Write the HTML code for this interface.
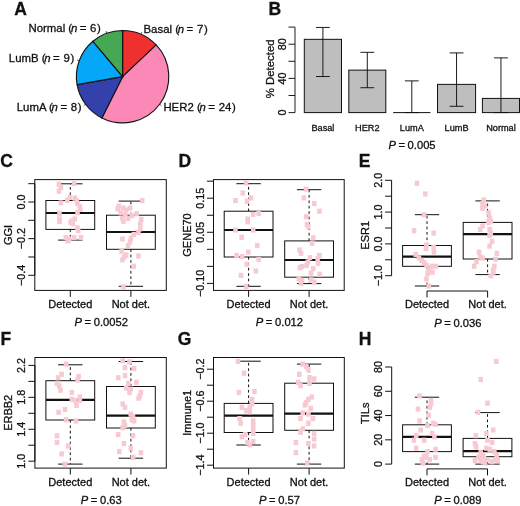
<!DOCTYPE html>
<html><head><meta charset="utf-8"><style>
html,body{margin:0;padding:0;background:#fff;}
svg{display:block;font-family:"Liberation Sans", sans-serif;filter:blur(0.3px);}
svg text{fill:#111;stroke:#111;stroke-width:0.3px;}
</style></head><body>
<svg width="520" height="506" viewBox="0 0 520 506">
<rect width="520" height="506" fill="#fff"/>
<path d="M122.6,76.65 L122.60,30.45 A46.2,46.2 0 0 1 156.20,44.95 Z" fill="#f0302f" stroke="#141414" stroke-width="1.15"/>
<line x1="140.90" y1="34.23" x2="141.81" y2="32.11" stroke="#1a1a1a" stroke-width="0.7"/>
<path d="M122.6,76.65 L156.20,44.95 A46.2,46.2 0 0 1 101.87,117.94 Z" fill="#fb88b7" stroke="#141414" stroke-width="1.15"/>
<line x1="159.66" y1="104.24" x2="161.51" y2="105.62" stroke="#1a1a1a" stroke-width="0.7"/>
<path d="M122.6,76.65 L101.87,117.94 A46.2,46.2 0 0 1 77.10,84.67 Z" fill="#3441ab" stroke="#141414" stroke-width="1.15"/>
<line x1="85.54" y1="104.24" x2="83.69" y2="105.62" stroke="#1a1a1a" stroke-width="0.7"/>
<path d="M122.6,76.65 L77.10,84.67 A46.2,46.2 0 0 1 92.90,41.26 Z" fill="#05a7f8" stroke="#141414" stroke-width="1.15"/>
<line x1="79.19" y1="60.85" x2="77.02" y2="60.06" stroke="#1a1a1a" stroke-width="0.7"/>
<path d="M122.6,76.65 L92.90,41.26 A46.2,46.2 0 0 1 122.60,30.45 Z" fill="#47a854" stroke="#141414" stroke-width="1.15"/>
<line x1="106.80" y1="33.24" x2="106.01" y2="31.07" stroke="#1a1a1a" stroke-width="0.7"/>
<text x="143.5" y="32.7" text-anchor="start" font-size="11.4">Basal (<tspan font-style="italic" dx="-1.25">n</tspan><tspan dx="-0.7"> =</tspan><tspan dx="0.6"> 7</tspan><tspan dx="0.65">)</tspan></text>
<text x="163.4" y="110.7" text-anchor="start" font-size="11.4">HER2 (<tspan font-style="italic" dx="-1.25">n</tspan><tspan dx="-0.7"> =</tspan><tspan dx="0.6"> 24</tspan><tspan dx="0.65">)</tspan></text>
<text x="81.6" y="110.8" text-anchor="end" font-size="11.4">LumA (<tspan font-style="italic" dx="-1.25">n</tspan><tspan dx="-0.7"> =</tspan><tspan dx="0.6"> 8</tspan><tspan dx="0.65">)</tspan></text>
<text x="74.3" y="62.2" text-anchor="end" font-size="11.4">LumB (<tspan font-style="italic" dx="-1.25">n</tspan><tspan dx="-0.7"> =</tspan><tspan dx="0.6"> 9</tspan><tspan dx="0.65">)</tspan></text>
<text x="100.9" y="32.2" text-anchor="end" font-size="11.4">Normal (<tspan font-style="italic" dx="-1.25">n</tspan><tspan dx="-0.7"> =</tspan><tspan dx="0.6"> 6</tspan><tspan dx="0.65">)</tspan></text>
<text x="14.2" y="15" font-size="17.5" font-weight="bold">A</text>
<text x="268.6" y="15.2" font-size="17.5" font-weight="bold">B</text>
<text x="0.3" y="167.2" font-size="17.5" font-weight="bold">C</text>
<text x="178.4" y="167.2" font-size="17.5" font-weight="bold">D</text>
<text x="358.8" y="167.2" font-size="17.5" font-weight="bold">E</text>
<text x="0.6" y="344.8" font-size="17.5" font-weight="bold">F</text>
<text x="177.8" y="344.8" font-size="17.5" font-weight="bold">G</text>
<text x="358.8" y="344.8" font-size="17.5" font-weight="bold">H</text>
<line x1="295" y1="112.6" x2="295" y2="27.099999999999994" stroke="#111" stroke-width="0.95"/>
<line x1="288.5" y1="112.6" x2="295" y2="112.6" stroke="#111" stroke-width="0.95"/>
<line x1="288.5" y1="95.5" x2="295" y2="95.5" stroke="#111" stroke-width="0.95"/>
<line x1="288.5" y1="78.39999999999999" x2="295" y2="78.39999999999999" stroke="#111" stroke-width="0.95"/>
<line x1="288.5" y1="61.3" x2="295" y2="61.3" stroke="#111" stroke-width="0.95"/>
<line x1="288.5" y1="44.19999999999999" x2="295" y2="44.19999999999999" stroke="#111" stroke-width="0.95"/>
<line x1="288.5" y1="27.099999999999994" x2="295" y2="27.099999999999994" stroke="#111" stroke-width="0.95"/>
<text transform="translate(285.5,112.6) rotate(-90)" text-anchor="middle" font-size="10.8">0</text>
<text transform="translate(285.5,78.39999999999999) rotate(-90)" text-anchor="middle" font-size="10.8">40</text>
<text transform="translate(285.5,44.19999999999999) rotate(-90)" text-anchor="middle" font-size="10.8">80</text>
<text transform="translate(273.6,68.8) rotate(-90)" text-anchor="middle" font-size="11.4">% Detected</text>
<rect x="304.3" y="39.33" width="37.20" height="73.27" fill="#bebebe" stroke="#111" stroke-width="1.0"/>
<line x1="322.9" y1="76.51899999999999" x2="322.9" y2="27.442000000000007" stroke="#111" stroke-width="0.95"/>
<line x1="316.0" y1="76.51899999999999" x2="329.79999999999995" y2="76.51899999999999" stroke="#111" stroke-width="0.95"/>
<line x1="316.0" y1="27.442000000000007" x2="329.79999999999995" y2="27.442000000000007" stroke="#111" stroke-width="0.95"/>
<text x="322.9" y="130.8" text-anchor="middle" font-size="9.2">Basal</text>
<rect x="348.8" y="70.11" width="37.00" height="42.49" fill="#bebebe" stroke="#111" stroke-width="1.0"/>
<line x1="367.3" y1="87.7195" x2="367.3" y2="52.3225" stroke="#111" stroke-width="0.95"/>
<line x1="360.40000000000003" y1="87.7195" x2="374.2" y2="87.7195" stroke="#111" stroke-width="0.95"/>
<line x1="360.40000000000003" y1="52.3225" x2="374.2" y2="52.3225" stroke="#111" stroke-width="0.95"/>
<text x="367.3" y="130.8" text-anchor="middle" font-size="9.2">HER2</text>
<line x1="393.2" y1="112.60" x2="430.4" y2="112.60" stroke="#111" stroke-width="1.0"/>
<line x1="411.79999999999995" y1="112.6" x2="411.79999999999995" y2="80.8795" stroke="#111" stroke-width="0.95"/>
<line x1="404.9" y1="112.6" x2="418.69999999999993" y2="112.6" stroke="#111" stroke-width="0.95"/>
<line x1="404.9" y1="80.8795" x2="418.69999999999993" y2="80.8795" stroke="#111" stroke-width="0.95"/>
<text x="411.79999999999995" y="130.8" text-anchor="middle" font-size="9.2">LumA</text>
<rect x="437.5" y="84.38" width="38.10" height="28.22" fill="#bebebe" stroke="#111" stroke-width="1.0"/>
<line x1="456.55" y1="106.273" x2="456.55" y2="52.921" stroke="#111" stroke-width="0.95"/>
<line x1="449.65000000000003" y1="106.273" x2="463.45" y2="106.273" stroke="#111" stroke-width="0.95"/>
<line x1="449.65000000000003" y1="52.921" x2="463.45" y2="52.921" stroke="#111" stroke-width="0.95"/>
<text x="456.55" y="130.8" text-anchor="middle" font-size="9.2">LumB</text>
<rect x="482.4" y="98.41" width="37.10" height="14.19" fill="#bebebe" stroke="#111" stroke-width="1.0"/>
<line x1="500.95" y1="112.6" x2="500.95" y2="57.879999999999995" stroke="#111" stroke-width="0.95"/>
<line x1="494.05" y1="112.6" x2="507.84999999999997" y2="112.6" stroke="#111" stroke-width="0.95"/>
<line x1="494.05" y1="57.879999999999995" x2="507.84999999999997" y2="57.879999999999995" stroke="#111" stroke-width="0.95"/>
<text x="500.95" y="130.8" text-anchor="middle" font-size="9.2">Normal</text>
<text x="412" y="148.5" text-anchor="middle" font-size="11.2"><tspan font-style="italic">P</tspan><tspan dx="-0.55"> =</tspan><tspan dx="-0.48"> 0.005</tspan></text>
<rect x="34.8" y="179.6" width="131.5" height="110.79999999999998" fill="none" stroke="#111" stroke-width="1.0"/>
<line x1="34.8" y1="183.675" x2="34.8" y2="275.3" stroke="#111" stroke-width="1.0"/>
<line x1="28.299999999999997" y1="183.68" x2="34.8" y2="183.68" stroke="#111" stroke-width="1.0"/>
<line x1="28.299999999999997" y1="202.00" x2="34.8" y2="202.00" stroke="#111" stroke-width="1.0"/>
<line x1="28.299999999999997" y1="220.32" x2="34.8" y2="220.32" stroke="#111" stroke-width="1.0"/>
<line x1="28.299999999999997" y1="238.65" x2="34.8" y2="238.65" stroke="#111" stroke-width="1.0"/>
<line x1="28.299999999999997" y1="256.98" x2="34.8" y2="256.98" stroke="#111" stroke-width="1.0"/>
<line x1="28.299999999999997" y1="275.30" x2="34.8" y2="275.30" stroke="#111" stroke-width="1.0"/>
<text transform="translate(25.299999999999997,202.00) rotate(-90)" text-anchor="middle" font-size="10.8">0.0</text>
<text transform="translate(25.299999999999997,238.65) rotate(-90)" text-anchor="middle" font-size="10.8">−0.2</text>
<text transform="translate(25.299999999999997,275.30) rotate(-90)" text-anchor="middle" font-size="10.8">−0.4</text>
<text transform="translate(11.899999999999999,235.00) rotate(-90)" text-anchor="middle" font-size="11">GGI</text>
<line x1="70.3" y1="290.4" x2="70.3" y2="296.9" stroke="#111" stroke-width="1.0"/>
<line x1="130.9" y1="290.4" x2="130.9" y2="296.9" stroke="#111" stroke-width="1.0"/>
<text x="70.3" y="307.79999999999995" text-anchor="middle" font-size="11">Detected</text>
<text x="130.9" y="307.79999999999995" text-anchor="middle" font-size="11">Not det.</text>
<text x="101.19999999999999" y="325.9" text-anchor="middle" font-size="11.2"><tspan font-style="italic">P</tspan><tspan dx="-0.55"> =</tspan><tspan dx="-0.48"> 0.0052</tspan></text>
<line x1="70.3" y1="200.50" x2="70.3" y2="183.80" stroke="#111" stroke-width="1.0" stroke-dasharray="2.7,2.7"/>
<line x1="70.3" y1="229.40" x2="70.3" y2="240.10" stroke="#111" stroke-width="1.0" stroke-dasharray="2.7,2.7"/>
<line x1="58.099999999999994" y1="183.80" x2="82.5" y2="183.80" stroke="#111" stroke-width="1.0"/>
<line x1="58.099999999999994" y1="240.10" x2="82.5" y2="240.10" stroke="#111" stroke-width="1.0"/>
<rect x="45.9" y="200.50" width="48.8" height="28.90" fill="none" stroke="#111" stroke-width="1.0"/>
<line x1="45.9" y1="213.00" x2="94.69999999999999" y2="213.00" stroke="#111" stroke-width="2.2"/>
<line x1="130.9" y1="215.20" x2="130.9" y2="201.10" stroke="#111" stroke-width="1.0" stroke-dasharray="2.7,2.7"/>
<line x1="130.9" y1="249.30" x2="130.9" y2="286.30" stroke="#111" stroke-width="1.0" stroke-dasharray="2.7,2.7"/>
<line x1="118.7" y1="201.10" x2="143.1" y2="201.10" stroke="#111" stroke-width="1.0"/>
<line x1="118.7" y1="286.30" x2="143.1" y2="286.30" stroke="#111" stroke-width="1.0"/>
<rect x="106.5" y="215.20" width="48.8" height="34.10" fill="none" stroke="#111" stroke-width="1.0"/>
<line x1="106.5" y1="232.00" x2="155.3" y2="232.00" stroke="#111" stroke-width="2.2"/>
<rect x="56.60" y="181.60" width="4.6" height="5.2" fill="#f7cad1"/>
<rect x="71.80" y="180.90" width="4.6" height="5.2" fill="#f7cad1"/>
<rect x="58.60" y="185.10" width="4.6" height="5.2" fill="#f7cad1"/>
<rect x="56.60" y="188.60" width="4.6" height="5.2" fill="#f7cad1"/>
<rect x="67.60" y="194.80" width="4.6" height="5.2" fill="#f7cad1"/>
<rect x="72.50" y="195.50" width="4.6" height="5.2" fill="#f7cad1"/>
<rect x="74.60" y="198.30" width="4.6" height="5.2" fill="#f7cad1"/>
<rect x="64.90" y="197.60" width="4.6" height="5.2" fill="#f7cad1"/>
<rect x="58.60" y="200.30" width="4.6" height="5.2" fill="#f7cad1"/>
<rect x="75.20" y="201.00" width="4.6" height="5.2" fill="#f7cad1"/>
<rect x="77.30" y="203.80" width="4.6" height="5.2" fill="#f7cad1"/>
<rect x="78.00" y="206.60" width="4.6" height="5.2" fill="#f7cad1"/>
<rect x="75.20" y="210.00" width="4.6" height="5.2" fill="#f7cad1"/>
<rect x="57.20" y="210.70" width="4.6" height="5.2" fill="#f7cad1"/>
<rect x="57.20" y="216.30" width="4.6" height="5.2" fill="#f7cad1"/>
<rect x="57.20" y="219.00" width="4.6" height="5.2" fill="#f7cad1"/>
<rect x="72.50" y="216.30" width="4.6" height="5.2" fill="#f7cad1"/>
<rect x="69.70" y="218.30" width="4.6" height="5.2" fill="#f7cad1"/>
<rect x="68.30" y="219.70" width="4.6" height="5.2" fill="#f7cad1"/>
<rect x="70.40" y="221.10" width="4.6" height="5.2" fill="#f7cad1"/>
<rect x="75.20" y="225.30" width="4.6" height="5.2" fill="#f7cad1"/>
<rect x="75.90" y="228.00" width="4.6" height="5.2" fill="#f7cad1"/>
<rect x="63.50" y="235.00" width="4.6" height="5.2" fill="#f7cad1"/>
<rect x="66.90" y="236.30" width="4.6" height="5.2" fill="#f7cad1"/>
<rect x="71.80" y="235.00" width="4.6" height="5.2" fill="#f7cad1"/>
<rect x="78.70" y="235.00" width="4.6" height="5.2" fill="#f7cad1"/>
<rect x="65.60" y="238.40" width="4.6" height="5.2" fill="#f7cad1"/>
<rect x="139.90" y="198.00" width="4.6" height="5.2" fill="#f7cad1"/>
<rect x="116.45" y="203.65" width="4.6" height="5.2" fill="#f7cad1"/>
<rect x="115.50" y="206.40" width="4.6" height="5.2" fill="#f7cad1"/>
<rect x="121.10" y="205.50" width="4.6" height="5.2" fill="#f7cad1"/>
<rect x="123.95" y="207.40" width="4.6" height="5.2" fill="#f7cad1"/>
<rect x="127.70" y="205.50" width="4.6" height="5.2" fill="#f7cad1"/>
<rect x="118.30" y="210.20" width="4.6" height="5.2" fill="#f7cad1"/>
<rect x="123.00" y="212.10" width="4.6" height="5.2" fill="#f7cad1"/>
<rect x="129.60" y="213.00" width="4.6" height="5.2" fill="#f7cad1"/>
<rect x="134.30" y="211.15" width="4.6" height="5.2" fill="#f7cad1"/>
<rect x="120.20" y="215.80" width="4.6" height="5.2" fill="#f7cad1"/>
<rect x="125.80" y="215.80" width="4.6" height="5.2" fill="#f7cad1"/>
<rect x="138.95" y="216.80" width="4.6" height="5.2" fill="#f7cad1"/>
<rect x="138.00" y="221.40" width="4.6" height="5.2" fill="#f7cad1"/>
<rect x="121.10" y="218.65" width="4.6" height="5.2" fill="#f7cad1"/>
<rect x="138.00" y="226.15" width="4.6" height="5.2" fill="#f7cad1"/>
<rect x="136.10" y="229.90" width="4.6" height="5.2" fill="#f7cad1"/>
<rect x="131.45" y="231.80" width="4.6" height="5.2" fill="#f7cad1"/>
<rect x="128.60" y="235.50" width="4.6" height="5.2" fill="#f7cad1"/>
<rect x="120.20" y="236.40" width="4.6" height="5.2" fill="#f7cad1"/>
<rect x="127.70" y="239.30" width="4.6" height="5.2" fill="#f7cad1"/>
<rect x="125.80" y="243.00" width="4.6" height="5.2" fill="#f7cad1"/>
<rect x="119.30" y="248.65" width="4.6" height="5.2" fill="#f7cad1"/>
<rect x="123.95" y="252.40" width="4.6" height="5.2" fill="#f7cad1"/>
<rect x="136.10" y="253.40" width="4.6" height="5.2" fill="#f7cad1"/>
<rect x="120.20" y="257.10" width="4.6" height="5.2" fill="#f7cad1"/>
<rect x="122.10" y="254.30" width="4.6" height="5.2" fill="#f7cad1"/>
<rect x="131.45" y="263.65" width="4.6" height="5.2" fill="#f7cad1"/>
<rect x="121.10" y="284.30" width="4.6" height="5.2" fill="#f7cad1"/>
<rect x="213.5" y="179.6" width="130.7" height="110.79999999999998" fill="none" stroke="#111" stroke-width="1.0"/>
<line x1="213.5" y1="181.16" x2="213.5" y2="283.4" stroke="#111" stroke-width="1.0"/>
<line x1="207.0" y1="181.16" x2="213.5" y2="181.16" stroke="#111" stroke-width="1.0"/>
<line x1="207.0" y1="198.20" x2="213.5" y2="198.20" stroke="#111" stroke-width="1.0"/>
<line x1="207.0" y1="215.24" x2="213.5" y2="215.24" stroke="#111" stroke-width="1.0"/>
<line x1="207.0" y1="232.28" x2="213.5" y2="232.28" stroke="#111" stroke-width="1.0"/>
<line x1="207.0" y1="249.32" x2="213.5" y2="249.32" stroke="#111" stroke-width="1.0"/>
<line x1="207.0" y1="266.36" x2="213.5" y2="266.36" stroke="#111" stroke-width="1.0"/>
<line x1="207.0" y1="283.40" x2="213.5" y2="283.40" stroke="#111" stroke-width="1.0"/>
<text transform="translate(204.0,198.20) rotate(-90)" text-anchor="middle" font-size="10.8">0.15</text>
<text transform="translate(204.0,232.28) rotate(-90)" text-anchor="middle" font-size="10.8">0.05</text>
<text transform="translate(204.0,283.40) rotate(-90)" text-anchor="middle" font-size="10.8">−0.10</text>
<text transform="translate(190.6,235.00) rotate(-90)" text-anchor="middle" font-size="11">GENE70</text>
<line x1="248.6" y1="290.4" x2="248.6" y2="296.9" stroke="#111" stroke-width="1.0"/>
<line x1="309.1" y1="290.4" x2="309.1" y2="296.9" stroke="#111" stroke-width="1.0"/>
<text x="248.6" y="307.79999999999995" text-anchor="middle" font-size="11">Detected</text>
<text x="309.1" y="307.79999999999995" text-anchor="middle" font-size="11">Not det.</text>
<text x="279.45000000000005" y="325.9" text-anchor="middle" font-size="11.2"><tspan font-style="italic">P</tspan><tspan dx="-0.55"> =</tspan><tspan dx="-0.48"> 0.012</tspan></text>
<line x1="248.6" y1="211.20" x2="248.6" y2="183.70" stroke="#111" stroke-width="1.0" stroke-dasharray="2.7,2.7"/>
<line x1="248.6" y1="257.00" x2="248.6" y2="286.30" stroke="#111" stroke-width="1.0" stroke-dasharray="2.7,2.7"/>
<line x1="236.4" y1="183.70" x2="260.8" y2="183.70" stroke="#111" stroke-width="1.0"/>
<line x1="236.4" y1="286.30" x2="260.8" y2="286.30" stroke="#111" stroke-width="1.0"/>
<rect x="224.2" y="211.20" width="48.8" height="45.80" fill="none" stroke="#111" stroke-width="1.0"/>
<line x1="224.2" y1="230.00" x2="273.0" y2="230.00" stroke="#111" stroke-width="2.2"/>
<line x1="309.1" y1="240.90" x2="309.1" y2="189.70" stroke="#111" stroke-width="1.0" stroke-dasharray="2.7,2.7"/>
<line x1="309.1" y1="277.20" x2="309.1" y2="283.60" stroke="#111" stroke-width="1.0" stroke-dasharray="2.7,2.7"/>
<line x1="296.90000000000003" y1="189.70" x2="321.3" y2="189.70" stroke="#111" stroke-width="1.0"/>
<line x1="296.90000000000003" y1="283.60" x2="321.3" y2="283.60" stroke="#111" stroke-width="1.0"/>
<rect x="284.70000000000005" y="240.90" width="48.8" height="36.30" fill="none" stroke="#111" stroke-width="1.0"/>
<line x1="284.70000000000005" y1="260.00" x2="333.5" y2="260.00" stroke="#111" stroke-width="2.2"/>
<rect x="243.80" y="180.30" width="4.6" height="5.2" fill="#f7cad1"/>
<rect x="240.50" y="190.50" width="4.6" height="5.2" fill="#f7cad1"/>
<rect x="248.70" y="195.30" width="4.6" height="5.2" fill="#f7cad1"/>
<rect x="233.20" y="198.00" width="4.6" height="5.2" fill="#f7cad1"/>
<rect x="244.70" y="198.60" width="4.6" height="5.2" fill="#f7cad1"/>
<rect x="250.90" y="211.90" width="4.6" height="5.2" fill="#f7cad1"/>
<rect x="256.40" y="210.80" width="4.6" height="5.2" fill="#f7cad1"/>
<rect x="245.40" y="216.40" width="4.6" height="5.2" fill="#f7cad1"/>
<rect x="245.40" y="219.20" width="4.6" height="5.2" fill="#f7cad1"/>
<rect x="233.20" y="227.40" width="4.6" height="5.2" fill="#f7cad1"/>
<rect x="250.90" y="227.40" width="4.6" height="5.2" fill="#f7cad1"/>
<rect x="239.40" y="234.70" width="4.6" height="5.2" fill="#f7cad1"/>
<rect x="254.90" y="242.90" width="4.6" height="5.2" fill="#f7cad1"/>
<rect x="246.00" y="249.60" width="4.6" height="5.2" fill="#f7cad1"/>
<rect x="234.30" y="252.90" width="4.6" height="5.2" fill="#f7cad1"/>
<rect x="239.80" y="254.00" width="4.6" height="5.2" fill="#f7cad1"/>
<rect x="256.40" y="256.90" width="4.6" height="5.2" fill="#f7cad1"/>
<rect x="244.30" y="261.70" width="4.6" height="5.2" fill="#f7cad1"/>
<rect x="253.60" y="268.40" width="4.6" height="5.2" fill="#f7cad1"/>
<rect x="238.70" y="272.80" width="4.6" height="5.2" fill="#f7cad1"/>
<rect x="243.80" y="283.90" width="4.6" height="5.2" fill="#f7cad1"/>
<rect x="303.80" y="186.50" width="4.6" height="5.2" fill="#f7cad1"/>
<rect x="301.60" y="195.30" width="4.6" height="5.2" fill="#f7cad1"/>
<rect x="312.00" y="200.90" width="4.6" height="5.2" fill="#f7cad1"/>
<rect x="317.10" y="208.60" width="4.6" height="5.2" fill="#f7cad1"/>
<rect x="303.80" y="214.10" width="4.6" height="5.2" fill="#f7cad1"/>
<rect x="304.70" y="221.90" width="4.6" height="5.2" fill="#f7cad1"/>
<rect x="306.00" y="224.10" width="4.6" height="5.2" fill="#f7cad1"/>
<rect x="310.90" y="235.20" width="4.6" height="5.2" fill="#f7cad1"/>
<rect x="309.80" y="240.70" width="4.6" height="5.2" fill="#f7cad1"/>
<rect x="297.20" y="247.40" width="4.6" height="5.2" fill="#f7cad1"/>
<rect x="298.70" y="250.70" width="4.6" height="5.2" fill="#f7cad1"/>
<rect x="317.10" y="252.90" width="4.6" height="5.2" fill="#f7cad1"/>
<rect x="307.60" y="255.10" width="4.6" height="5.2" fill="#f7cad1"/>
<rect x="315.30" y="256.20" width="4.6" height="5.2" fill="#f7cad1"/>
<rect x="305.40" y="259.50" width="4.6" height="5.2" fill="#f7cad1"/>
<rect x="315.80" y="260.60" width="4.6" height="5.2" fill="#f7cad1"/>
<rect x="299.80" y="264.00" width="4.6" height="5.2" fill="#f7cad1"/>
<rect x="304.30" y="262.80" width="4.6" height="5.2" fill="#f7cad1"/>
<rect x="297.60" y="265.10" width="4.6" height="5.2" fill="#f7cad1"/>
<rect x="310.90" y="266.20" width="4.6" height="5.2" fill="#f7cad1"/>
<rect x="308.70" y="270.60" width="4.6" height="5.2" fill="#f7cad1"/>
<rect x="317.50" y="271.70" width="4.6" height="5.2" fill="#f7cad1"/>
<rect x="296.50" y="276.10" width="4.6" height="5.2" fill="#f7cad1"/>
<rect x="299.80" y="277.70" width="4.6" height="5.2" fill="#f7cad1"/>
<rect x="298.70" y="280.60" width="4.6" height="5.2" fill="#f7cad1"/>
<rect x="308.70" y="277.20" width="4.6" height="5.2" fill="#f7cad1"/>
<rect x="312.00" y="279.40" width="4.6" height="5.2" fill="#f7cad1"/>
<line x1="391.6" y1="180.3" x2="391.6" y2="275.7" stroke="#111" stroke-width="1.0"/>
<line x1="385.1" y1="180.30" x2="391.6" y2="180.30" stroke="#111" stroke-width="1.0"/>
<line x1="385.1" y1="196.20" x2="391.6" y2="196.20" stroke="#111" stroke-width="1.0"/>
<line x1="385.1" y1="212.10" x2="391.6" y2="212.10" stroke="#111" stroke-width="1.0"/>
<line x1="385.1" y1="228.00" x2="391.6" y2="228.00" stroke="#111" stroke-width="1.0"/>
<line x1="385.1" y1="243.90" x2="391.6" y2="243.90" stroke="#111" stroke-width="1.0"/>
<line x1="385.1" y1="259.80" x2="391.6" y2="259.80" stroke="#111" stroke-width="1.0"/>
<line x1="385.1" y1="275.70" x2="391.6" y2="275.70" stroke="#111" stroke-width="1.0"/>
<text transform="translate(382.1,180.30) rotate(-90)" text-anchor="middle" font-size="10.8">2.0</text>
<text transform="translate(382.1,212.10) rotate(-90)" text-anchor="middle" font-size="10.8">1.0</text>
<text transform="translate(382.1,243.90) rotate(-90)" text-anchor="middle" font-size="10.8">0.0</text>
<text transform="translate(382.1,275.70) rotate(-90)" text-anchor="middle" font-size="10.8">−1.0</text>
<text transform="translate(368.70000000000005,235.30) rotate(-90)" text-anchor="middle" font-size="11">ESR1</text>
<line x1="427.0" y1="291.0" x2="487.6" y2="291.0" stroke="#111" stroke-width="1.0"/>
<line x1="427.0" y1="291.0" x2="427.0" y2="297.5" stroke="#111" stroke-width="1.0"/>
<line x1="487.6" y1="291.0" x2="487.6" y2="297.5" stroke="#111" stroke-width="1.0"/>
<text x="427.0" y="308.4" text-anchor="middle" font-size="11">Detected</text>
<text x="487.6" y="308.4" text-anchor="middle" font-size="11">Not det.</text>
<text x="457.90000000000003" y="326.5" text-anchor="middle" font-size="11.2"><tspan font-style="italic">P</tspan><tspan dx="-0.55"> =</tspan><tspan dx="-0.48"> 0.036</tspan></text>
<line x1="427.0" y1="245.50" x2="427.0" y2="214.70" stroke="#111" stroke-width="1.0" stroke-dasharray="2.7,2.7"/>
<line x1="427.0" y1="266.30" x2="427.0" y2="286.00" stroke="#111" stroke-width="1.0" stroke-dasharray="2.7,2.7"/>
<line x1="414.8" y1="214.70" x2="439.2" y2="214.70" stroke="#111" stroke-width="1.0"/>
<line x1="414.8" y1="286.00" x2="439.2" y2="286.00" stroke="#111" stroke-width="1.0"/>
<rect x="402.6" y="245.50" width="48.8" height="20.80" fill="none" stroke="#111" stroke-width="1.0"/>
<line x1="402.6" y1="256.60" x2="451.4" y2="256.60" stroke="#111" stroke-width="2.2"/>
<line x1="487.6" y1="222.40" x2="487.6" y2="200.90" stroke="#111" stroke-width="1.0" stroke-dasharray="2.7,2.7"/>
<line x1="487.6" y1="259.00" x2="487.6" y2="274.60" stroke="#111" stroke-width="1.0" stroke-dasharray="2.7,2.7"/>
<line x1="475.40000000000003" y1="200.90" x2="499.8" y2="200.90" stroke="#111" stroke-width="1.0"/>
<line x1="475.40000000000003" y1="274.60" x2="499.8" y2="274.60" stroke="#111" stroke-width="1.0"/>
<rect x="463.20000000000005" y="222.40" width="48.8" height="36.60" fill="none" stroke="#111" stroke-width="1.0"/>
<line x1="463.20000000000005" y1="234.10" x2="512.0" y2="234.10" stroke="#111" stroke-width="2.2"/>
<rect x="414.70" y="180.70" width="4.6" height="5.2" fill="#f7cad1"/>
<rect x="423.00" y="191.40" width="4.6" height="5.2" fill="#f7cad1"/>
<rect x="421.80" y="212.20" width="4.6" height="5.2" fill="#f7cad1"/>
<rect x="411.80" y="228.10" width="4.6" height="5.2" fill="#f7cad1"/>
<rect x="431.30" y="230.50" width="4.6" height="5.2" fill="#f7cad1"/>
<rect x="424.20" y="242.40" width="4.6" height="5.2" fill="#f7cad1"/>
<rect x="423.70" y="245.90" width="4.6" height="5.2" fill="#f7cad1"/>
<rect x="431.30" y="244.70" width="4.6" height="5.2" fill="#f7cad1"/>
<rect x="431.70" y="249.50" width="4.6" height="5.2" fill="#f7cad1"/>
<rect x="413.50" y="251.80" width="4.6" height="5.2" fill="#f7cad1"/>
<rect x="416.60" y="255.40" width="4.6" height="5.2" fill="#f7cad1"/>
<rect x="419.40" y="257.80" width="4.6" height="5.2" fill="#f7cad1"/>
<rect x="421.80" y="260.10" width="4.6" height="5.2" fill="#f7cad1"/>
<rect x="424.20" y="262.50" width="4.6" height="5.2" fill="#f7cad1"/>
<rect x="430.10" y="263.70" width="4.6" height="5.2" fill="#f7cad1"/>
<rect x="433.60" y="263.70" width="4.6" height="5.2" fill="#f7cad1"/>
<rect x="426.50" y="266.10" width="4.6" height="5.2" fill="#f7cad1"/>
<rect x="430.10" y="269.60" width="4.6" height="5.2" fill="#f7cad1"/>
<rect x="425.30" y="270.80" width="4.6" height="5.2" fill="#f7cad1"/>
<rect x="424.20" y="276.30" width="4.6" height="5.2" fill="#f7cad1"/>
<rect x="426.50" y="283.40" width="4.6" height="5.2" fill="#f7cad1"/>
<rect x="481.40" y="197.30" width="4.6" height="5.2" fill="#f7cad1"/>
<rect x="480.20" y="200.90" width="4.6" height="5.2" fill="#f7cad1"/>
<rect x="482.60" y="203.20" width="4.6" height="5.2" fill="#f7cad1"/>
<rect x="480.20" y="205.60" width="4.6" height="5.2" fill="#f7cad1"/>
<rect x="486.20" y="210.30" width="4.6" height="5.2" fill="#f7cad1"/>
<rect x="487.30" y="215.10" width="4.6" height="5.2" fill="#f7cad1"/>
<rect x="488.50" y="218.60" width="4.6" height="5.2" fill="#f7cad1"/>
<rect x="486.20" y="219.80" width="4.6" height="5.2" fill="#f7cad1"/>
<rect x="480.20" y="223.40" width="4.6" height="5.2" fill="#f7cad1"/>
<rect x="477.90" y="226.90" width="4.6" height="5.2" fill="#f7cad1"/>
<rect x="487.30" y="226.90" width="4.6" height="5.2" fill="#f7cad1"/>
<rect x="488.50" y="230.50" width="4.6" height="5.2" fill="#f7cad1"/>
<rect x="487.30" y="232.90" width="4.6" height="5.2" fill="#f7cad1"/>
<rect x="489.70" y="238.80" width="4.6" height="5.2" fill="#f7cad1"/>
<rect x="487.30" y="243.50" width="4.6" height="5.2" fill="#f7cad1"/>
<rect x="476.70" y="249.50" width="4.6" height="5.2" fill="#f7cad1"/>
<rect x="494.50" y="250.70" width="4.6" height="5.2" fill="#f7cad1"/>
<rect x="477.90" y="254.20" width="4.6" height="5.2" fill="#f7cad1"/>
<rect x="480.20" y="255.40" width="4.6" height="5.2" fill="#f7cad1"/>
<rect x="493.30" y="256.60" width="4.6" height="5.2" fill="#f7cad1"/>
<rect x="474.30" y="259.00" width="4.6" height="5.2" fill="#f7cad1"/>
<rect x="471.90" y="263.70" width="4.6" height="5.2" fill="#f7cad1"/>
<rect x="492.10" y="263.70" width="4.6" height="5.2" fill="#f7cad1"/>
<rect x="490.90" y="267.30" width="4.6" height="5.2" fill="#f7cad1"/>
<rect x="490.90" y="269.60" width="4.6" height="5.2" fill="#f7cad1"/>
<rect x="488.50" y="273.20" width="4.6" height="5.2" fill="#f7cad1"/>
<rect x="34.9" y="357.5" width="131.4" height="110.60000000000002" fill="none" stroke="#111" stroke-width="1.0"/>
<line x1="34.9" y1="365.4" x2="34.9" y2="461.2" stroke="#111" stroke-width="1.0"/>
<line x1="28.4" y1="365.40" x2="34.9" y2="365.40" stroke="#111" stroke-width="1.0"/>
<line x1="28.4" y1="381.37" x2="34.9" y2="381.37" stroke="#111" stroke-width="1.0"/>
<line x1="28.4" y1="397.33" x2="34.9" y2="397.33" stroke="#111" stroke-width="1.0"/>
<line x1="28.4" y1="413.30" x2="34.9" y2="413.30" stroke="#111" stroke-width="1.0"/>
<line x1="28.4" y1="429.27" x2="34.9" y2="429.27" stroke="#111" stroke-width="1.0"/>
<line x1="28.4" y1="445.23" x2="34.9" y2="445.23" stroke="#111" stroke-width="1.0"/>
<line x1="28.4" y1="461.20" x2="34.9" y2="461.20" stroke="#111" stroke-width="1.0"/>
<text transform="translate(25.4,365.40) rotate(-90)" text-anchor="middle" font-size="10.8">2.2</text>
<text transform="translate(25.4,397.33) rotate(-90)" text-anchor="middle" font-size="10.8">1.8</text>
<text transform="translate(25.4,429.27) rotate(-90)" text-anchor="middle" font-size="10.8">1.4</text>
<text transform="translate(25.4,461.20) rotate(-90)" text-anchor="middle" font-size="10.8">1.0</text>
<text transform="translate(12.0,412.80) rotate(-90)" text-anchor="middle" font-size="11">ERBB2</text>
<line x1="70.3" y1="468.1" x2="70.3" y2="474.6" stroke="#111" stroke-width="1.0"/>
<line x1="130.9" y1="468.1" x2="130.9" y2="474.6" stroke="#111" stroke-width="1.0"/>
<text x="70.3" y="485.5" text-anchor="middle" font-size="11">Detected</text>
<text x="130.9" y="485.5" text-anchor="middle" font-size="11">Not det.</text>
<text x="101.19999999999999" y="503.6" text-anchor="middle" font-size="11.2"><tspan font-style="italic">P</tspan><tspan dx="-0.55"> =</tspan><tspan dx="-0.48"> 0.63</tspan></text>
<line x1="70.3" y1="380.70" x2="70.3" y2="364.80" stroke="#111" stroke-width="1.0" stroke-dasharray="2.7,2.7"/>
<line x1="70.3" y1="420.00" x2="70.3" y2="464.10" stroke="#111" stroke-width="1.0" stroke-dasharray="2.7,2.7"/>
<line x1="58.099999999999994" y1="364.80" x2="82.5" y2="364.80" stroke="#111" stroke-width="1.0"/>
<line x1="58.099999999999994" y1="464.10" x2="82.5" y2="464.10" stroke="#111" stroke-width="1.0"/>
<rect x="45.9" y="380.70" width="48.8" height="39.30" fill="none" stroke="#111" stroke-width="1.0"/>
<line x1="45.9" y1="399.80" x2="94.69999999999999" y2="399.80" stroke="#111" stroke-width="2.2"/>
<line x1="130.9" y1="386.50" x2="130.9" y2="361.50" stroke="#111" stroke-width="1.0" stroke-dasharray="2.7,2.7"/>
<line x1="130.9" y1="428.00" x2="130.9" y2="458.20" stroke="#111" stroke-width="1.0" stroke-dasharray="2.7,2.7"/>
<line x1="118.7" y1="361.50" x2="143.1" y2="361.50" stroke="#111" stroke-width="1.0"/>
<line x1="118.7" y1="458.20" x2="143.1" y2="458.20" stroke="#111" stroke-width="1.0"/>
<rect x="106.5" y="386.50" width="48.8" height="41.50" fill="none" stroke="#111" stroke-width="1.0"/>
<line x1="106.5" y1="415.60" x2="155.3" y2="415.60" stroke="#111" stroke-width="2.2"/>
<rect x="63.80" y="361.50" width="4.6" height="5.2" fill="#f7cad1"/>
<rect x="59.30" y="371.70" width="4.6" height="5.2" fill="#f7cad1"/>
<rect x="55.90" y="375.10" width="4.6" height="5.2" fill="#f7cad1"/>
<rect x="76.30" y="374.00" width="4.6" height="5.2" fill="#f7cad1"/>
<rect x="75.20" y="377.40" width="4.6" height="5.2" fill="#f7cad1"/>
<rect x="54.70" y="380.80" width="4.6" height="5.2" fill="#f7cad1"/>
<rect x="57.00" y="383.10" width="4.6" height="5.2" fill="#f7cad1"/>
<rect x="58.20" y="387.60" width="4.6" height="5.2" fill="#f7cad1"/>
<rect x="69.50" y="389.90" width="4.6" height="5.2" fill="#f7cad1"/>
<rect x="69.50" y="396.70" width="4.6" height="5.2" fill="#f7cad1"/>
<rect x="77.50" y="394.40" width="4.6" height="5.2" fill="#f7cad1"/>
<rect x="77.50" y="397.90" width="4.6" height="5.2" fill="#f7cad1"/>
<rect x="72.90" y="397.90" width="4.6" height="5.2" fill="#f7cad1"/>
<rect x="74.10" y="402.90" width="4.6" height="5.2" fill="#f7cad1"/>
<rect x="62.70" y="406.90" width="4.6" height="5.2" fill="#f7cad1"/>
<rect x="56.30" y="409.70" width="4.6" height="5.2" fill="#f7cad1"/>
<rect x="63.80" y="417.20" width="4.6" height="5.2" fill="#f7cad1"/>
<rect x="73.60" y="418.30" width="4.6" height="5.2" fill="#f7cad1"/>
<rect x="54.70" y="433.10" width="4.6" height="5.2" fill="#f7cad1"/>
<rect x="54.70" y="439.90" width="4.6" height="5.2" fill="#f7cad1"/>
<rect x="66.10" y="443.30" width="4.6" height="5.2" fill="#f7cad1"/>
<rect x="59.30" y="451.30" width="4.6" height="5.2" fill="#f7cad1"/>
<rect x="62.70" y="461.50" width="4.6" height="5.2" fill="#f7cad1"/>
<rect x="120.40" y="358.10" width="4.6" height="5.2" fill="#f7cad1"/>
<rect x="127.20" y="359.20" width="4.6" height="5.2" fill="#f7cad1"/>
<rect x="122.70" y="364.90" width="4.6" height="5.2" fill="#f7cad1"/>
<rect x="131.80" y="366.00" width="4.6" height="5.2" fill="#f7cad1"/>
<rect x="122.70" y="372.90" width="4.6" height="5.2" fill="#f7cad1"/>
<rect x="115.90" y="375.10" width="4.6" height="5.2" fill="#f7cad1"/>
<rect x="134.10" y="379.70" width="4.6" height="5.2" fill="#f7cad1"/>
<rect x="126.10" y="380.80" width="4.6" height="5.2" fill="#f7cad1"/>
<rect x="123.80" y="385.40" width="4.6" height="5.2" fill="#f7cad1"/>
<rect x="128.40" y="386.50" width="4.6" height="5.2" fill="#f7cad1"/>
<rect x="127.20" y="389.90" width="4.6" height="5.2" fill="#f7cad1"/>
<rect x="138.60" y="389.90" width="4.6" height="5.2" fill="#f7cad1"/>
<rect x="137.50" y="393.30" width="4.6" height="5.2" fill="#f7cad1"/>
<rect x="136.30" y="395.60" width="4.6" height="5.2" fill="#f7cad1"/>
<rect x="120.40" y="401.30" width="4.6" height="5.2" fill="#f7cad1"/>
<rect x="122.70" y="404.70" width="4.6" height="5.2" fill="#f7cad1"/>
<rect x="128.40" y="411.50" width="4.6" height="5.2" fill="#f7cad1"/>
<rect x="130.70" y="413.80" width="4.6" height="5.2" fill="#f7cad1"/>
<rect x="129.50" y="417.20" width="4.6" height="5.2" fill="#f7cad1"/>
<rect x="131.80" y="418.30" width="4.6" height="5.2" fill="#f7cad1"/>
<rect x="121.60" y="419.40" width="4.6" height="5.2" fill="#f7cad1"/>
<rect x="122.70" y="422.90" width="4.6" height="5.2" fill="#f7cad1"/>
<rect x="120.40" y="425.10" width="4.6" height="5.2" fill="#f7cad1"/>
<rect x="115.90" y="431.90" width="4.6" height="5.2" fill="#f7cad1"/>
<rect x="130.70" y="433.10" width="4.6" height="5.2" fill="#f7cad1"/>
<rect x="121.60" y="441.00" width="4.6" height="5.2" fill="#f7cad1"/>
<rect x="128.40" y="445.60" width="4.6" height="5.2" fill="#f7cad1"/>
<rect x="117.00" y="449.00" width="4.6" height="5.2" fill="#f7cad1"/>
<rect x="138.60" y="450.10" width="4.6" height="5.2" fill="#f7cad1"/>
<rect x="130.70" y="454.70" width="4.6" height="5.2" fill="#f7cad1"/>
<rect x="213.5" y="357.5" width="130.8" height="110.60000000000002" fill="none" stroke="#111" stroke-width="1.0"/>
<line x1="213.5" y1="369.2" x2="213.5" y2="465.2" stroke="#111" stroke-width="1.0"/>
<line x1="207.0" y1="369.20" x2="213.5" y2="369.20" stroke="#111" stroke-width="1.0"/>
<line x1="207.0" y1="385.20" x2="213.5" y2="385.20" stroke="#111" stroke-width="1.0"/>
<line x1="207.0" y1="401.20" x2="213.5" y2="401.20" stroke="#111" stroke-width="1.0"/>
<line x1="207.0" y1="417.20" x2="213.5" y2="417.20" stroke="#111" stroke-width="1.0"/>
<line x1="207.0" y1="433.20" x2="213.5" y2="433.20" stroke="#111" stroke-width="1.0"/>
<line x1="207.0" y1="449.20" x2="213.5" y2="449.20" stroke="#111" stroke-width="1.0"/>
<line x1="207.0" y1="465.20" x2="213.5" y2="465.20" stroke="#111" stroke-width="1.0"/>
<text transform="translate(204.0,369.20) rotate(-90)" text-anchor="middle" font-size="10.8">−0.2</text>
<text transform="translate(204.0,401.20) rotate(-90)" text-anchor="middle" font-size="10.8">−0.6</text>
<text transform="translate(204.0,433.20) rotate(-90)" text-anchor="middle" font-size="10.8">−1.0</text>
<text transform="translate(204.0,465.20) rotate(-90)" text-anchor="middle" font-size="10.8">−1.4</text>
<text transform="translate(190.6,412.80) rotate(-90)" text-anchor="middle" font-size="11">Immune1</text>
<line x1="248.6" y1="468.1" x2="248.6" y2="474.6" stroke="#111" stroke-width="1.0"/>
<line x1="309.1" y1="468.1" x2="309.1" y2="474.6" stroke="#111" stroke-width="1.0"/>
<text x="248.6" y="485.5" text-anchor="middle" font-size="11">Detected</text>
<text x="309.1" y="485.5" text-anchor="middle" font-size="11">Not det.</text>
<text x="279.45000000000005" y="503.6" text-anchor="middle" font-size="11.2"><tspan font-style="italic">P</tspan><tspan dx="-0.55"> =</tspan><tspan dx="-0.48"> 0.57</tspan></text>
<line x1="248.6" y1="403.40" x2="248.6" y2="361.20" stroke="#111" stroke-width="1.0" stroke-dasharray="2.7,2.7"/>
<line x1="248.6" y1="432.50" x2="248.6" y2="445.00" stroke="#111" stroke-width="1.0" stroke-dasharray="2.7,2.7"/>
<line x1="236.4" y1="361.20" x2="260.8" y2="361.20" stroke="#111" stroke-width="1.0"/>
<line x1="236.4" y1="445.00" x2="260.8" y2="445.00" stroke="#111" stroke-width="1.0"/>
<rect x="224.2" y="403.40" width="48.8" height="29.10" fill="none" stroke="#111" stroke-width="1.0"/>
<line x1="224.2" y1="415.60" x2="273.0" y2="415.60" stroke="#111" stroke-width="2.2"/>
<line x1="309.1" y1="383.20" x2="309.1" y2="364.10" stroke="#111" stroke-width="1.0" stroke-dasharray="2.7,2.7"/>
<line x1="309.1" y1="430.30" x2="309.1" y2="464.10" stroke="#111" stroke-width="1.0" stroke-dasharray="2.7,2.7"/>
<line x1="296.90000000000003" y1="364.10" x2="321.3" y2="364.10" stroke="#111" stroke-width="1.0"/>
<line x1="296.90000000000003" y1="464.10" x2="321.3" y2="464.10" stroke="#111" stroke-width="1.0"/>
<rect x="284.70000000000005" y="383.20" width="48.8" height="47.10" fill="none" stroke="#111" stroke-width="1.0"/>
<line x1="284.70000000000005" y1="413.70" x2="333.5" y2="413.70" stroke="#111" stroke-width="2.2"/>
<rect x="235.70" y="358.80" width="4.6" height="5.2" fill="#f7cad1"/>
<rect x="241.80" y="370.60" width="4.6" height="5.2" fill="#f7cad1"/>
<rect x="236.60" y="389.90" width="4.6" height="5.2" fill="#f7cad1"/>
<rect x="252.10" y="388.80" width="4.6" height="5.2" fill="#f7cad1"/>
<rect x="249.80" y="396.70" width="4.6" height="5.2" fill="#f7cad1"/>
<rect x="249.80" y="401.30" width="4.6" height="5.2" fill="#f7cad1"/>
<rect x="239.60" y="404.70" width="4.6" height="5.2" fill="#f7cad1"/>
<rect x="247.50" y="404.70" width="4.6" height="5.2" fill="#f7cad1"/>
<rect x="244.10" y="408.10" width="4.6" height="5.2" fill="#f7cad1"/>
<rect x="247.50" y="409.20" width="4.6" height="5.2" fill="#f7cad1"/>
<rect x="237.30" y="416.00" width="4.6" height="5.2" fill="#f7cad1"/>
<rect x="238.40" y="420.60" width="4.6" height="5.2" fill="#f7cad1"/>
<rect x="250.90" y="418.30" width="4.6" height="5.2" fill="#f7cad1"/>
<rect x="250.90" y="422.90" width="4.6" height="5.2" fill="#f7cad1"/>
<rect x="250.90" y="427.40" width="4.6" height="5.2" fill="#f7cad1"/>
<rect x="250.90" y="430.80" width="4.6" height="5.2" fill="#f7cad1"/>
<rect x="243.00" y="431.90" width="4.6" height="5.2" fill="#f7cad1"/>
<rect x="239.60" y="434.20" width="4.6" height="5.2" fill="#f7cad1"/>
<rect x="245.20" y="439.90" width="4.6" height="5.2" fill="#f7cad1"/>
<rect x="250.90" y="438.80" width="4.6" height="5.2" fill="#f7cad1"/>
<rect x="247.50" y="442.20" width="4.6" height="5.2" fill="#f7cad1"/>
<rect x="300.40" y="361.50" width="4.6" height="5.2" fill="#f7cad1"/>
<rect x="303.80" y="363.80" width="4.6" height="5.2" fill="#f7cad1"/>
<rect x="306.10" y="367.20" width="4.6" height="5.2" fill="#f7cad1"/>
<rect x="297.00" y="371.70" width="4.6" height="5.2" fill="#f7cad1"/>
<rect x="307.20" y="375.10" width="4.6" height="5.2" fill="#f7cad1"/>
<rect x="311.80" y="376.30" width="4.6" height="5.2" fill="#f7cad1"/>
<rect x="295.90" y="379.70" width="4.6" height="5.2" fill="#f7cad1"/>
<rect x="298.20" y="383.10" width="4.6" height="5.2" fill="#f7cad1"/>
<rect x="307.20" y="380.80" width="4.6" height="5.2" fill="#f7cad1"/>
<rect x="309.50" y="394.40" width="4.6" height="5.2" fill="#f7cad1"/>
<rect x="306.10" y="396.70" width="4.6" height="5.2" fill="#f7cad1"/>
<rect x="303.80" y="400.10" width="4.6" height="5.2" fill="#f7cad1"/>
<rect x="302.70" y="402.40" width="4.6" height="5.2" fill="#f7cad1"/>
<rect x="308.40" y="405.80" width="4.6" height="5.2" fill="#f7cad1"/>
<rect x="300.40" y="410.40" width="4.6" height="5.2" fill="#f7cad1"/>
<rect x="306.10" y="411.50" width="4.6" height="5.2" fill="#f7cad1"/>
<rect x="298.20" y="416.00" width="4.6" height="5.2" fill="#f7cad1"/>
<rect x="310.70" y="416.00" width="4.6" height="5.2" fill="#f7cad1"/>
<rect x="306.10" y="420.60" width="4.6" height="5.2" fill="#f7cad1"/>
<rect x="300.40" y="426.30" width="4.6" height="5.2" fill="#f7cad1"/>
<rect x="298.20" y="429.70" width="4.6" height="5.2" fill="#f7cad1"/>
<rect x="311.80" y="430.80" width="4.6" height="5.2" fill="#f7cad1"/>
<rect x="311.80" y="436.50" width="4.6" height="5.2" fill="#f7cad1"/>
<rect x="293.60" y="439.90" width="4.6" height="5.2" fill="#f7cad1"/>
<rect x="306.10" y="441.00" width="4.6" height="5.2" fill="#f7cad1"/>
<rect x="311.80" y="443.30" width="4.6" height="5.2" fill="#f7cad1"/>
<rect x="293.60" y="450.10" width="4.6" height="5.2" fill="#f7cad1"/>
<rect x="305.00" y="460.40" width="4.6" height="5.2" fill="#f7cad1"/>
<line x1="391.7" y1="367.0" x2="391.7" y2="464.1" stroke="#111" stroke-width="1.0"/>
<line x1="385.2" y1="367.00" x2="391.7" y2="367.00" stroke="#111" stroke-width="1.0"/>
<line x1="385.2" y1="391.27" x2="391.7" y2="391.27" stroke="#111" stroke-width="1.0"/>
<line x1="385.2" y1="415.55" x2="391.7" y2="415.55" stroke="#111" stroke-width="1.0"/>
<line x1="385.2" y1="439.83" x2="391.7" y2="439.83" stroke="#111" stroke-width="1.0"/>
<line x1="385.2" y1="464.10" x2="391.7" y2="464.10" stroke="#111" stroke-width="1.0"/>
<text transform="translate(382.2,367.00) rotate(-90)" text-anchor="middle" font-size="10.8">80</text>
<text transform="translate(382.2,391.27) rotate(-90)" text-anchor="middle" font-size="10.8">60</text>
<text transform="translate(382.2,415.55) rotate(-90)" text-anchor="middle" font-size="10.8">40</text>
<text transform="translate(382.2,439.83) rotate(-90)" text-anchor="middle" font-size="10.8">20</text>
<text transform="translate(382.2,464.10) rotate(-90)" text-anchor="middle" font-size="10.8">0</text>
<text transform="translate(368.8,413.20) rotate(-90)" text-anchor="middle" font-size="11">TILs</text>
<line x1="427.0" y1="468.9" x2="487.5" y2="468.9" stroke="#111" stroke-width="1.0"/>
<line x1="427.0" y1="468.9" x2="427.0" y2="475.4" stroke="#111" stroke-width="1.0"/>
<line x1="487.5" y1="468.9" x2="487.5" y2="475.4" stroke="#111" stroke-width="1.0"/>
<text x="427.0" y="486.29999999999995" text-anchor="middle" font-size="11">Detected</text>
<text x="487.5" y="486.29999999999995" text-anchor="middle" font-size="11">Not det.</text>
<text x="457.85" y="504.4" text-anchor="middle" font-size="11.2"><tspan font-style="italic">P</tspan><tspan dx="-0.55"> =</tspan><tspan dx="-0.48"> 0.089</tspan></text>
<line x1="427.0" y1="424.80" x2="427.0" y2="397.20" stroke="#111" stroke-width="1.0" stroke-dasharray="2.7,2.7"/>
<line x1="427.0" y1="451.60" x2="427.0" y2="464.10" stroke="#111" stroke-width="1.0" stroke-dasharray="2.7,2.7"/>
<line x1="414.8" y1="397.20" x2="439.2" y2="397.20" stroke="#111" stroke-width="1.0"/>
<line x1="414.8" y1="464.10" x2="439.2" y2="464.10" stroke="#111" stroke-width="1.0"/>
<rect x="402.6" y="424.80" width="48.8" height="26.80" fill="none" stroke="#111" stroke-width="1.0"/>
<line x1="402.6" y1="436.90" x2="451.4" y2="436.90" stroke="#111" stroke-width="2.2"/>
<line x1="487.5" y1="438.40" x2="487.5" y2="412.60" stroke="#111" stroke-width="1.0" stroke-dasharray="2.7,2.7"/>
<line x1="487.5" y1="456.70" x2="487.5" y2="464.10" stroke="#111" stroke-width="1.0" stroke-dasharray="2.7,2.7"/>
<line x1="475.3" y1="412.60" x2="499.7" y2="412.60" stroke="#111" stroke-width="1.0"/>
<line x1="475.3" y1="464.10" x2="499.7" y2="464.10" stroke="#111" stroke-width="1.0"/>
<rect x="463.1" y="438.40" width="48.8" height="18.30" fill="none" stroke="#111" stroke-width="1.0"/>
<line x1="463.1" y1="451.20" x2="511.9" y2="451.20" stroke="#111" stroke-width="2.2"/>
<rect x="417.30" y="393.30" width="4.6" height="5.2" fill="#f7cad1"/>
<rect x="428.70" y="397.90" width="4.6" height="5.2" fill="#f7cad1"/>
<rect x="428.70" y="401.30" width="4.6" height="5.2" fill="#f7cad1"/>
<rect x="427.50" y="404.70" width="4.6" height="5.2" fill="#f7cad1"/>
<rect x="415.70" y="406.50" width="4.6" height="5.2" fill="#f7cad1"/>
<rect x="426.40" y="412.60" width="4.6" height="5.2" fill="#f7cad1"/>
<rect x="417.30" y="418.30" width="4.6" height="5.2" fill="#f7cad1"/>
<rect x="430.90" y="420.60" width="4.6" height="5.2" fill="#f7cad1"/>
<rect x="433.20" y="421.70" width="4.6" height="5.2" fill="#f7cad1"/>
<rect x="425.20" y="422.90" width="4.6" height="5.2" fill="#f7cad1"/>
<rect x="418.40" y="427.40" width="4.6" height="5.2" fill="#f7cad1"/>
<rect x="429.80" y="430.80" width="4.6" height="5.2" fill="#f7cad1"/>
<rect x="413.90" y="433.10" width="4.6" height="5.2" fill="#f7cad1"/>
<rect x="432.10" y="434.20" width="4.6" height="5.2" fill="#f7cad1"/>
<rect x="411.60" y="437.60" width="4.6" height="5.2" fill="#f7cad1"/>
<rect x="421.80" y="437.60" width="4.6" height="5.2" fill="#f7cad1"/>
<rect x="413.90" y="445.60" width="4.6" height="5.2" fill="#f7cad1"/>
<rect x="433.20" y="446.70" width="4.6" height="5.2" fill="#f7cad1"/>
<rect x="425.20" y="449.00" width="4.6" height="5.2" fill="#f7cad1"/>
<rect x="421.80" y="453.50" width="4.6" height="5.2" fill="#f7cad1"/>
<rect x="424.10" y="454.70" width="4.6" height="5.2" fill="#f7cad1"/>
<rect x="427.50" y="456.90" width="4.6" height="5.2" fill="#f7cad1"/>
<rect x="419.60" y="456.90" width="4.6" height="5.2" fill="#f7cad1"/>
<rect x="420.70" y="460.40" width="4.6" height="5.2" fill="#f7cad1"/>
<rect x="433.20" y="454.70" width="4.6" height="5.2" fill="#f7cad1"/>
<rect x="493.90" y="358.80" width="4.6" height="5.2" fill="#f7cad1"/>
<rect x="478.40" y="376.90" width="4.6" height="5.2" fill="#f7cad1"/>
<rect x="485.20" y="400.60" width="4.6" height="5.2" fill="#f7cad1"/>
<rect x="475.70" y="409.70" width="4.6" height="5.2" fill="#f7cad1"/>
<rect x="490.90" y="427.40" width="4.6" height="5.2" fill="#f7cad1"/>
<rect x="484.10" y="430.80" width="4.6" height="5.2" fill="#f7cad1"/>
<rect x="473.40" y="433.10" width="4.6" height="5.2" fill="#f7cad1"/>
<rect x="485.20" y="437.60" width="4.6" height="5.2" fill="#f7cad1"/>
<rect x="472.70" y="441.00" width="4.6" height="5.2" fill="#f7cad1"/>
<rect x="489.80" y="439.90" width="4.6" height="5.2" fill="#f7cad1"/>
<rect x="473.90" y="444.40" width="4.6" height="5.2" fill="#f7cad1"/>
<rect x="484.10" y="445.60" width="4.6" height="5.2" fill="#f7cad1"/>
<rect x="487.50" y="446.70" width="4.6" height="5.2" fill="#f7cad1"/>
<rect x="492.10" y="449.00" width="4.6" height="5.2" fill="#f7cad1"/>
<rect x="478.40" y="450.10" width="4.6" height="5.2" fill="#f7cad1"/>
<rect x="480.70" y="452.40" width="4.6" height="5.2" fill="#f7cad1"/>
<rect x="494.30" y="452.40" width="4.6" height="5.2" fill="#f7cad1"/>
<rect x="476.20" y="454.70" width="4.6" height="5.2" fill="#f7cad1"/>
<rect x="481.80" y="455.80" width="4.6" height="5.2" fill="#f7cad1"/>
<rect x="485.20" y="456.90" width="4.6" height="5.2" fill="#f7cad1"/>
<rect x="493.20" y="456.90" width="4.6" height="5.2" fill="#f7cad1"/>
<rect x="472.70" y="458.10" width="4.6" height="5.2" fill="#f7cad1"/>
<rect x="478.40" y="458.10" width="4.6" height="5.2" fill="#f7cad1"/>
<rect x="495.50" y="458.10" width="4.6" height="5.2" fill="#f7cad1"/>
<rect x="480.70" y="459.20" width="4.6" height="5.2" fill="#f7cad1"/>
<rect x="489.80" y="459.20" width="4.6" height="5.2" fill="#f7cad1"/>
<rect x="482.90" y="460.40" width="4.6" height="5.2" fill="#f7cad1"/>
</svg></body></html>
